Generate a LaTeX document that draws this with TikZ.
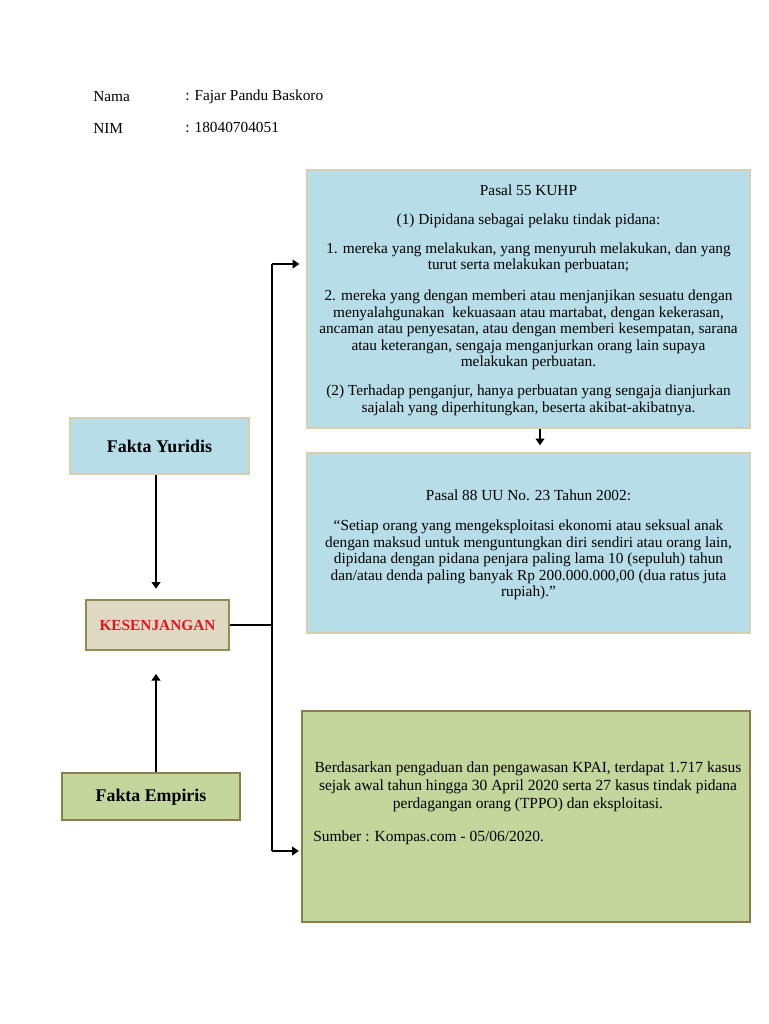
\documentclass[tikz,border=0pt]{standalone}
\usepackage{fontspec}
\setmainfont{Liberation Serif}
\usetikzlibrary{arrows.meta}
\definecolor{bluefill}{HTML}{B7DDE8}
\definecolor{blueedge}{HTML}{D6CFB0}
\definecolor{greenfill}{HTML}{C3D69B}
\definecolor{greenedge}{HTML}{8C7E48}
\definecolor{kesfill}{HTML}{DDD9C3}
\definecolor{kesedge}{HTML}{948A54}
\definecolor{kesred}{HTML}{E8121B}
\tikzset{
  x=0.75pt, y=-0.75pt,
  bluebox/.style={draw=blueedge, line width=1.5pt, fill=bluefill},
  greenbox/.style={draw=greenedge, line width=1.8pt, fill=greenfill},
  kesbox/.style={draw=kesedge, line width=1.8pt, fill=kesfill},
  bodytext/.style={font=\fontsize{11.5}{12.4}\selectfont, align=center, inner sep=0pt},
  hdr/.style={font=\fontsize{11.5}{12.8}\selectfont, anchor=west, inner sep=0pt},
  label/.style={font=\fontsize{13.4}{15}\selectfont\bfseries, inner sep=0pt},
  conn/.style={line width=1.9pt, black},
  arr/.style={conn, -{Triangle[width=6.5pt,length=5pt]}},
}
\begin{document}
\begin{tikzpicture}
\useasboundingbox (0,0) rectangle (768,1024);
\fill[white] (0,0) rectangle (768,1024);

% header
\node[hdr] (nama) at (93,97) {Nama};
\node[hdr] (namav) at (185,97) {: Fajar Pandu Baskoro};
\node[hdr] (nim) at (93,128) {NIM};
\node[hdr] (nimv) at (185,128) {: 18040704051};

% boxes
\node[bluebox, minimum width=443*0.75pt, minimum height=258*0.75pt, inner sep=0pt] (p55) at (528.5,299) {};
\node[bluebox, minimum width=443*0.75pt, minimum height=180*0.75pt, inner sep=0pt] (p88) at (528.5,543) {};
\node[greenbox, minimum width=448*0.75pt, minimum height=211*0.75pt, inner sep=0pt] (gr) at (526,816.5) {};

\node[bluebox, minimum width=179*0.75pt, minimum height=56*0.75pt, inner sep=0pt] (yur) at (159.5,446) {};
\node[label] (yurt) at (159.5,446) {Fakta Yuridis};
\node[kesbox, minimum width=143*0.75pt, minimum height=50*0.75pt, inner sep=0pt] (kes) at (157.5,625) {};
\node[label, font=\fontsize{11.5}{13}\selectfont\bfseries, text=kesred] (kest) at (157.5,625.5) {KESENJANGAN};
\node[greenbox, minimum width=178*0.75pt, minimum height=47*0.75pt, inner sep=0pt] (emp) at (151,796.5) {};
\node[label] (empt) at (151,797) {Fakta Empiris};

% texts of Pasal 55
\node[bodytext, anchor=north] (p55t) at (528.5,185) {Pasal 55 KUHP\\[9.4pt]
(1) Dipidana sebagai pelaku tindak pidana:\\[8.8pt]
1. mereka yang melakukan, yang menyuruh melakukan, dan yang\\
turut serta melakukan perbuatan;\\[10.8pt]
2. mereka yang dengan memberi atau menjanjikan sesuatu dengan\\
menyalahgunakan\ \ kekuasaan atau martabat, dengan kekerasan,\\
ancaman atau penyesatan, atau dengan memberi kesempatan, sarana\\
atau keterangan, sengaja menganjurkan orang lain supaya\\
melakukan perbuatan.\\[9.4pt]
(2) Terhadap penganjur, hanya perbuatan yang sengaja dianjurkan\\
sajalah yang diperhitungkan, beserta akibat-akibatnya.};

\node[bodytext, anchor=north] (p88t) at (528.5,490) {Pasal 88 UU No. 23 Tahun 2002:\\[10pt]
``Setiap orang yang mengeksploitasi ekonomi atau seksual anak\\
dengan maksud untuk menguntungkan diri sendiri atau orang lain,\\
dipidana dengan pidana penjara paling lama 10 (sepuluh) tahun\\
dan/atau denda paling banyak Rp 200.000.000,00 (dua ratus juta\\
rupiah).''};

\node[bodytext, font=\fontsize{11.6}{13.5}\selectfont, anchor=north] (empdata) at (528,761) {Berdasarkan pengaduan dan pengawasan KPAI, terdapat 1.717 kasus\\
sejak awal tahun hingga 30 April 2020 serta 27 kasus tindak pidana\\
perdagangan orang (TPPO) dan eksploitasi.};
\node[bodytext, font=\fontsize{11.6}{13.5}\selectfont, anchor=north west] (sumber) at (313,830) {Sumber : Kompas.com - 05/06/2020.};

% connectors
\coordinate (j) at (kes.east -| 272,0);
\coordinate (jt) at (272,264);
\coordinate (jb) at (272,851);
\coordinate (t55) at (p55.west |- jt);
\coordinate (tgr) at (gr.west |- jb);
\coordinate (ys) at (yur.south -| 156,0);
\coordinate (kn) at (kes.north -| 156,0);
\coordinate (en) at (emp.north -| 156,0);
\coordinate (ks) at (kes.south -| 156,0);
\coordinate (p55s) at (p55.south -| 540,0);
\coordinate (p88n) at (p88.north -| 540,0);
\draw[conn] (kes.east) -- (j);
\draw[conn] (jt) -- (jb);
\draw[arr, shorten >=5pt] (jt) -- (t55);
\draw[arr, shorten >=1.5pt] (jb) -- (tgr);
\draw[arr, shorten >=7.5pt] (ys) -- (kn);
\draw[arr, shorten >=17pt] (en) -- (ks);
\draw[arr, shorten >=5pt] (p55s) -- (p88n);
\end{tikzpicture}
\end{document}
